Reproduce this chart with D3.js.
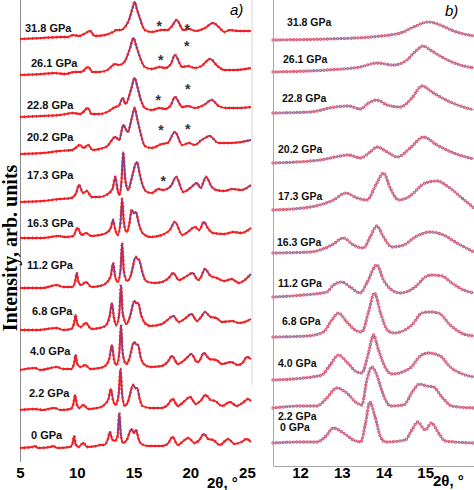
<!DOCTYPE html>
<html>
<head>
<meta charset="utf-8">
<script src="https://cdn.jsdelivr.net/npm/d3@7"></script>
<style>
  body { margin: 0; background: #fff; }
  text { font-family: "Liberation Sans", Arial, sans-serif; }
</style>
</head>
<body>
<svg id="chart" width="474" height="490"></svg>
<script>

// *** Data ***

var pressures = ["0 GPa", "2.2 GPa", "4.0 GPa", "6.8 GPa", "11.2 GPa", "16.3 GPa",
                 "17.3 GPa", "20.2 GPa", "22.8 GPa", "26.1 GPa", "31.8 GPa"];

// vertical shift of each pattern (arb. units), same order as pressures
var offsetsA = [14, 52, 92, 132, 174, 224, 260, 308, 345, 387, 423];
var offsetsB = [23, 58, 86, 129, 169, 213, 256, 303, 353, 394, 426];

// panel a) full patterns, [2theta, intensity]
var patternsA = [
  [[5,0],[6.1,1],[6.3,2],[6.6,0],[7.7,1],[7.9,2],[8.3,0],[9.4,1],[9.62,4],[9.76,12],[9.9,4],[10.15,1],[10.58,5],[10.9,1],[11.7,2],[12.05,3],[12.4,3],[12.72,8],[12.93,16],[13.1,9],[13.35,7],[13.6,12],[13.75,35],[13.9,12],[14.1,5],[14.4,8],[14.84,19],[15.02,15],[15.22,18],[15.45,9],[15.7,4],[16.3,2],[17.5,2],[18.0,4],[18.45,11],[18.9,3],[19.4,7],[19.83,10],[20.4,5],[20.8,8],[21.2,14],[21.6,9],[22.03,8],[22.6,3],[23.35,9],[23.9,4],[24.5,6],[24.97,9],[25.35,6]],
  [[5,0],[6.3,1],[7.0,0],[8.0,2],[8.6,0],[9.45,1],[9.7,6],[9.85,15],[10.0,6],[10.2,2],[10.6,5],[11.0,1],[11.8,2],[12.3,4],[12.8,11],[13.0,21],[13.2,10],[13.42,5],[13.7,16],[13.85,41],[14.0,16],[14.25,4],[14.5,8],[14.98,25],[15.15,22],[15.33,22],[15.55,11],[15.8,4],[16.5,2],[17.5,2],[18.0,5],[18.45,11],[18.9,4],[19.5,9],[19.98,13],[20.5,6],[20.9,9],[21.36,15],[21.8,10],[22.2,9],[22.8,4],[23.5,8],[24.1,4],[24.6,7],[25.1,11],[25.35,9]],
  [[5,0],[6.3,2],[6.8,0],[8.25,3],[8.8,1],[9.5,1],[9.75,6],[9.9,15],[10.05,6],[10.35,3],[10.75,5],[11.2,1],[12.0,2],[12.5,4],[12.9,13],[13.1,25],[13.28,11],[13.5,5],[13.75,17],[13.9,45],[14.05,17],[14.35,6],[14.6,10],[15.05,28],[15.2,26],[15.4,25],[15.65,12],[15.9,6],[16.5,3],[17.5,4],[18.0,8],[18.4,14],[18.9,6],[19.6,11],[20.1,16],[20.6,8],[20.8,9],[21.2,17],[21.7,11],[22.3,10],[22.8,6],[23.6,8],[24.2,5],[24.6,7],[25.0,13],[25.35,11]],
  [[5,0],[6.5,0],[8.25,2],[8.8,0],[9.5,1],[9.75,6],[9.9,15],[10.05,6],[10.35,3],[10.8,7],[11.3,1],[12.0,2],[12.5,4],[12.9,14],[13.1,27],[13.28,12],[13.5,5],[13.75,17],[13.9,45],[14.05,17],[14.4,6],[14.65,12],[15.1,29],[15.25,27],[15.4,27],[15.7,14],[16.0,7],[16.5,4],[17.5,6],[18.0,10],[18.5,14],[19.0,8],[19.6,12],[20.1,16],[20.6,9],[20.9,12],[21.3,18],[21.8,13],[22.3,12],[22.8,8],[23.7,9],[24.3,7],[24.8,8],[25.35,11]],
  [[5,0],[7.0,0],[8.25,3],[8.8,1],[9.6,1],[9.85,6],[10.0,15],[10.15,6],[10.4,3],[10.8,6],[11.3,1],[12.0,2],[12.5,4],[13.0,12],[13.2,25],[13.38,12],[13.6,6],[13.85,17],[14.0,45],[14.15,17],[14.45,7],[14.75,12],[15.2,31],[15.35,29],[15.5,28],[15.8,15],[16.1,7],[16.8,5],[17.5,6],[18.1,10],[18.5,15],[19.0,8],[19.7,12],[20.2,15],[20.7,8],[20.95,11],[21.3,19],[21.8,12],[22.35,10],[23.0,7],[23.65,9],[24.3,5],[24.8,8],[25.35,14]],
  [[5,0],[7.0,0],[8.4,2],[9.0,1],[9.7,2],[10.05,10],[10.45,3],[10.8,5],[11.3,2],[12.0,3],[12.6,5],[13.0,10],[13.2,18],[13.38,9],[13.6,3],[13.85,15],[14.0,39],[14.15,16],[14.4,6],[14.6,12],[14.85,28],[15.05,25],[15.2,26],[15.5,13],[15.8,5],[16.5,1],[17.5,3],[18.2,8],[18.65,16],[19.3,3],[19.9,7],[20.4,11],[20.8,8],[21.2,16],[21.6,9],[22.0,5],[23.0,4],[23.8,6],[24.5,5],[25.35,10]],
  [[5,0],[7.0,1],[8.5,3],[9.5,4],[9.95,9],[10.2,17],[10.55,9],[10.9,11],[11.3,5],[12.0,5],[12.6,7],[13.15,13],[13.4,25],[13.6,12],[13.75,7],[13.95,22],[14.1,50],[14.28,22],[14.55,12],[14.8,22],[15.3,40],[15.55,28],[15.8,17],[16.2,10],[16.6,9],[17.2,13],[17.6,12],[18.3,16],[18.75,25],[19.4,10],[20.0,14],[20.6,19],[20.9,14],[21.4,25],[21.9,15],[22.3,12],[23.0,11],[23.7,13],[24.5,12],[25.35,17]],
  [[5,0],[7.0,1],[8.5,3],[9.6,4],[10.3,9],[10.6,6],[11.0,9],[11.4,4],[12.0,5],[12.7,8],[13.4,17],[13.75,14],[14.1,29],[14.5,22],[14.85,36],[15.1,46],[15.35,34],[15.6,22],[16.0,8],[16.6,6],[17.5,10],[18.0,11],[18.65,22],[19.3,9],[19.9,11],[20.4,9],[21.0,14],[21.3,16],[21.7,18],[22.5,11],[23.5,11],[24.5,12],[25.35,14]],
  [[5,0],[7.0,1],[8.5,2],[9.7,4],[10.3,3],[11.0,9],[11.3,3],[12.0,3],[12.7,5],[13.4,10],[13.7,11],[14.05,19],[14.3,13],[14.8,28],[15.1,39],[15.35,30],[15.6,19],[16.0,9],[16.6,7],[17.3,9],[17.8,8],[18.3,12],[18.65,20],[19.3,10],[19.8,11],[20.4,9],[21.2,12],[21.9,17],[22.5,11],[23.2,9],[24.2,9],[25.35,10]],
  [[5,0],[7.0,1],[8.0,2],[9.0,1],[9.8,3],[10.4,3],[11.0,8],[11.4,3],[12.0,3],[12.7,5],[13.4,11],[13.7,10],[14.0,11],[14.3,15],[14.7,27],[15.0,37],[15.25,29],[15.5,20],[16.0,8],[16.6,6],[17.3,8],[17.8,7],[18.3,11],[18.65,20],[19.3,8],[19.8,9],[20.4,7],[21.0,9],[21.75,16],[22.4,9],[23.0,5],[24.0,5],[25.35,7]],
  [[5,0],[7.0,1],[8.5,2],[9.2,2],[9.7,4],[10.2,3],[10.8,6],[11.17,8],[11.6,3],[12.5,4],[13.2,7],[13.5,9],[13.9,9],[14.25,12],[14.6,19],[14.9,30],[15.1,37],[15.3,30],[15.5,23],[16.0,9],[16.6,7],[17.5,9],[18.0,9],[18.4,13],[18.8,19],[19.4,9],[19.9,10],[20.5,8],[21.3,11],[22.0,16],[22.6,11],[23.0,7],[23.5,9],[24.2,8],[25.35,8]]
];

// panel b) zoomed 11.35 - 16.2 deg region, [2theta, intensity]
var patternsB = [
  [[11.35,0],[12.0,1],[12.4,1],[12.6,6],[12.8,15],[13.04,10],[13.28,3],[13.45,1],[13.57,20],[13.67,41],[13.8,26],[13.93,6],[14.05,1],[14.52,3],[14.68,13],[14.82,21],[15.0,13],[15.15,20],[15.32,10],[15.48,2],[16.17,0]],
  [[11.35,0],[12.0,2],[12.4,2],[12.64,10],[12.88,20],[13.12,15],[13.36,5],[13.48,3],[13.6,28],[13.72,41],[13.84,33],[13.93,21],[14.05,8],[14.17,2],[14.48,3],[14.72,18],[14.86,24],[15.04,22],[15.2,21],[15.4,11],[15.64,2],[16.17,0]],
  [[11.35,0],[12.08,2],[12.52,5],[12.72,15],[12.92,25],[13.12,18],[13.36,8],[13.48,7],[13.64,27],[13.76,45],[13.88,30],[14.05,12],[14.2,6],[14.64,12],[14.88,24],[15.08,27],[15.36,24],[15.6,13],[15.84,7],[16.17,3]],
  [[11.35,0],[12.16,1],[12.56,5],[12.76,17],[12.92,24],[13.12,15],[13.32,7],[13.48,5],[13.64,25],[13.78,44],[13.93,24],[14.09,7],[14.25,4],[14.68,12],[14.92,24],[15.12,25],[15.32,24],[15.6,12],[15.92,3],[16.17,1]],
  [[11.35,0],[12.08,2],[12.64,5],[12.8,12],[13.0,15],[13.2,10],[13.44,4],[13.6,14],[13.84,32],[14.0,17],[14.2,7],[14.4,4],[14.76,10],[15.0,20],[15.16,22],[15.4,21],[15.64,14],[15.92,7],[16.17,4]],
  [[11.35,0],[12.24,1],[12.76,8],[13.04,15],[13.28,8],[13.52,5],[13.68,16],[13.84,27],[14.0,16],[14.2,6],[14.48,8],[14.8,17],[15.12,21],[15.44,18],[15.76,10],[16.17,1]],
  [[11.35,0],[12.24,3],[12.8,10],[13.1,17],[13.36,12],[13.6,10],[13.84,27],[14.0,37],[14.16,22],[14.36,10],[14.6,13],[15.0,27],[15.28,29],[15.56,23],[15.88,12],[16.17,2]],
  [[11.35,0],[12.48,3],[12.84,6],[13.16,8],[13.44,5],[13.68,11],[13.84,16],[14.09,11],[14.33,6],[14.64,15],[14.96,26],[15.28,18],[15.68,10],[16.17,4]],
  [[11.35,0],[12.24,1],[12.84,6],[13.16,7],[13.44,4],[13.64,10],[13.84,13],[14.09,8],[14.4,6],[14.68,15],[14.92,27],[15.2,20],[15.6,11],[16.17,3]],
  [[11.35,0],[12.64,2],[13.44,5],[13.84,9],[14.24,7],[14.56,12],[14.8,22],[14.95,26],[15.12,22],[15.44,14],[15.84,7],[16.17,4]],
  [[11.35,0],[12.64,1],[13.68,3],[14.4,7],[14.72,13],[15.08,18],[15.36,15],[15.68,9],[16.17,4]]
];

var ticksA = [5, 10, 15, 20, 25];
var ticksB = [12, 13, 14, 15];

// impurity reflections marked with "*": [pattern index, 2theta, height above its baseline]
var asterisks = [
  [10, 17.27, 16], [10, 19.74, 13],
  [9, 17.4, 18], [9, 19.69, 32],
  [8, 17.19, 20], [8, 19.78, 31],
  [7, 17.42, 27], [7, 19.78, 28],
  [6, 17.63, 24]
];

// *** Layout ***

// pressure label anchors [x, baseline y] in pixels
var labelPosA = [[31,439],[29,397],[30,355],[32,315],[27,269],[27,227],[27,179],[27,141],[27,109],[31,67],[25,32]];
var labelPosB = [[280,431],[278,420],[278,367],[282,325],[278,287],[277,246],[278,200],[278,153],[282,102],[283,63],[287,26]];

var RED = "#ec2227";
var CALC_A = "#4f4fc4";
var PINK = "#e85a72";
var CALC_B = "#5b6bb0";
var FRAME = "#a9a9a9";

var svg = d3.select("#chart");
var defs = svg.append("defs");

var xA = d3.scaleLinear().domain([5, 25.4]).range([20, 251.5]);
var yA = d3.scaleLinear().domain([0, 462]).range([462, 0]);
var xB = d3.scaleLinear().domain([11.35, 16.17]).range([273, 474]);
var yB = d3.scaleLinear().domain([0, 466]).range([466, 0]);

// *** Frames ***

svg.append("line").attr("x1", 20.5).attr("x2", 20.5).attr("y1", 0).attr("y2", 462)
    .attr("stroke", "#8c8c8c").attr("stroke-width", 1);
svg.append("line").attr("x1", 252).attr("x2", 252).attr("y1", 0).attr("y2", 385)
    .attr("stroke", "#d4d4d4").attr("stroke-width", 1);
svg.append("line").attr("x1", 273.5).attr("x2", 273.5).attr("y1", 0).attr("y2", 466)
    .attr("stroke", FRAME).attr("stroke-width", 1);

// *** Panel a) ***

var panelA = svg.append("g");

patternsA.forEach(function (pts, i) {
    var off = offsetsA[i];
    var lineMaker = d3.line()
        .x(d => xA(d[0]))
        .y(d => yA(d[1] + off))
        .curve(d3.curveMonotoneX);
    var path = lineMaker(pts);

    // calculated profile only shows through on the tall peaks
    defs.append("clipPath").attr("id", "peakA" + i)
        .append("rect")
        .attr("x", 0).attr("y", 0)
        .attr("width", 260)
        .attr("height", yA(off + 13));

    var g = panelA.append("g");
    g.append("path").attr("d", path)
        .attr("fill", "none").attr("stroke", RED).attr("stroke-width", 1.9);
    g.append("path").attr("d", path)
        .attr("clip-path", "url(#peakA" + i + ")")
        .attr("fill", "none").attr("stroke", CALC_A).attr("stroke-width", 1);
    g.append("path").attr("d", path)
        .attr("fill", "none").attr("stroke", RED).attr("stroke-width", 2.8)
        .attr("stroke-dasharray", "1 3");
});

panelA.selectAll(".lblA")
    .data(pressures)
    .enter().append("text")
    .attr("class", "lblA")
    .attr("x", (d, i) => labelPosA[i][0])
    .attr("y", (d, i) => labelPosA[i][1])
    .attr("font-size", 11)
    .attr("font-weight", "bold")
    .attr("fill", "#111")
    .text(d => d);

panelA.selectAll(".star")
    .data(asterisks)
    .enter().append("text")
    .attr("class", "star")
    .attr("x", d => xA(d[1]))
    .attr("y", d => yA(offsetsA[d[0]] + d[2]) + 8)
    .attr("text-anchor", "middle")
    .attr("font-size", 14)
    .attr("font-weight", "bold")
    .attr("fill", "#333")
    .text("*");

var xAxisA = d3.axisBottom(xA).tickValues(ticksA).tickSize(0).tickPadding(5).tickFormat(d3.format("d"));
var xAxisAG = svg.append("g")
    .attr("transform", "translate(0,462)")
    .call(xAxisA);
xAxisAG.select(".domain").remove();
xAxisAG.selectAll("text")
    .attr("font-family", "Liberation Sans, Arial, sans-serif")
    .attr("font-size", 15).attr("font-weight", "bold").attr("fill", "#000");

svg.append("text")
    .attr("x", 207).attr("y", 488)
    .attr("font-size", 15).attr("font-weight", "bold")
    .text("2\u03b8, \u00b0");

svg.append("text")
    .attr("x", 230).attr("y", 15)
    .attr("font-size", 15).attr("font-style", "italic")
    .text("a)");

svg.append("text")
    .attr("transform", "translate(17,248) rotate(-90)")
    .attr("text-anchor", "middle")
    .style("font-family", "'Liberation Serif', 'Times New Roman', serif")
    .attr("font-size", 20).attr("font-weight", "bold")
    .text("Intensity, arb. units");

// *** Panel b) ***

var panelB = svg.append("g");

patternsB.forEach(function (pts, i) {
    var off = offsetsB[i];
    var lineMaker = d3.line()
        .x(d => xB(d[0]))
        .y(d => yB(d[1] + off))
        .curve(d3.curveMonotoneX);
    var path = lineMaker(pts);

    var g = panelB.append("g");
    // observed points as small open circles
    g.append("path").attr("d", path)
        .attr("fill", "none").attr("stroke", PINK).attr("stroke-width", 3.4)
        .attr("stroke-linecap", "round").attr("stroke-dasharray", "0 3.4");
    g.append("path").attr("d", path)
        .attr("fill", "none").attr("stroke", "#fff").attr("stroke-width", 1.2)
        .attr("stroke-linecap", "round").attr("stroke-dasharray", "0 3.4");
    g.append("path").attr("d", path)
        .attr("fill", "none").attr("stroke", CALC_B).attr("stroke-width", 0.8)
        .attr("stroke-opacity", 0.75);
});

panelB.selectAll(".lblB")
    .data(pressures)
    .enter().append("text")
    .attr("class", "lblB")
    .attr("x", (d, i) => labelPosB[i][0])
    .attr("y", (d, i) => labelPosB[i][1])
    .attr("font-size", 10.5)
    .attr("font-weight", "bold")
    .attr("fill", "#111")
    .text(d => d);

var xAxisB = d3.axisBottom(xB).tickValues(ticksB).tickSizeInner(0).tickSizeOuter(0).tickPadding(1).tickFormat(d3.format("d"));
var xAxisBG = svg.append("g")
    .attr("transform", "translate(0,466)")
    .call(xAxisB);
xAxisBG.select(".domain").attr("stroke", FRAME);
xAxisBG.selectAll("text")
    .attr("font-family", "Liberation Sans, Arial, sans-serif")
    .attr("font-size", 15).attr("font-weight", "bold").attr("fill", "#000");

svg.append("text")
    .attr("x", 433).attr("y", 486)
    .attr("font-size", 15).attr("font-weight", "bold")
    .text("2\u03b8, \u00b0");

svg.append("text")
    .attr("x", 445).attr("y", 16)
    .attr("font-size", 15).attr("font-style", "italic")
    .text("b)");

</script>
</body>
</html>
